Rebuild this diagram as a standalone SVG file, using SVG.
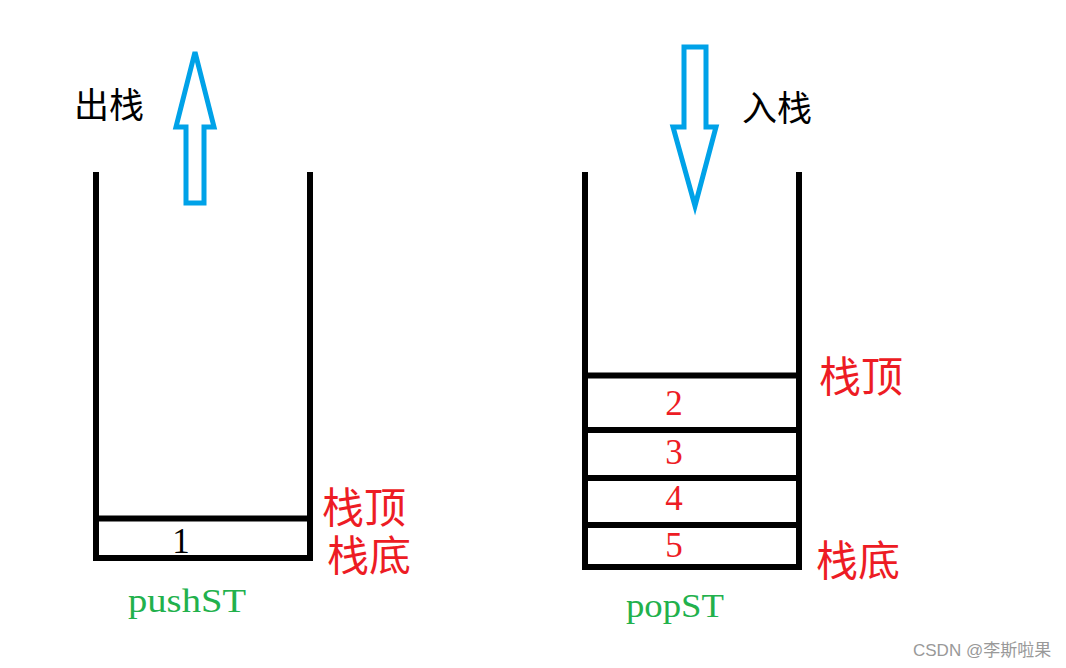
<svg xmlns="http://www.w3.org/2000/svg" width="1066" height="668" viewBox="0 0 1066 668">
<style>
.wall{fill:none;stroke:#000;stroke-width:6}
.arr{fill:none;stroke:#00a2e8;stroke-width:5;stroke-linejoin:miter}
.cjk{font-family:"Noto Sans CJK SC","Noto Sans",sans-serif}
.blk{fill:#000;font-size:35px}
.red{fill:#ed1c24;font-size:42px}
.num{font-family:"Liberation Serif",serif;font-size:35px;text-anchor:middle}
.grn{font-family:"Liberation Serif",serif;fill:#22b14c;font-size:34px}
</style>
<rect width="1066" height="668" fill="#fff"/>
<g id="pushST">
<polyline class="wall" points="96,172 96,558 310,558 310,172"/>
<line class="wall" x1="96" y1="518.5" x2="310" y2="518.5"/>
<text class="num" x="181" y="553" fill="#000">1</text>
<text class="grn" x="128" y="612" textLength="118" lengthAdjust="spacingAndGlyphs">pushST</text>
</g>
<g id="popST">
<polyline class="wall" points="585,172 585,567 799,567 799,172"/>
<line class="wall" x1="585" y1="375.5" x2="799" y2="375.5"/>
<line class="wall" x1="585" y1="430" x2="799" y2="430"/>
<line class="wall" x1="585" y1="478" x2="799" y2="478"/>
<line class="wall" x1="585" y1="525" x2="799" y2="525"/>
<text class="num" x="674" y="415" fill="#ed1c24">2</text>
<text class="num" x="674" y="464" fill="#ed1c24">3</text>
<text class="num" x="674" y="510" fill="#ed1c24">4</text>
<text class="num" x="674" y="557" fill="#ed1c24">5</text>
<text class="grn" x="626" y="617" textLength="98" lengthAdjust="spacingAndGlyphs">popST</text>
</g>
<g id="out-arrow">
<polygon class="arr" points="195,52 214,127 204,127 204,203 186,203 186,127 176,127"/>
<text class="cjk blk" x="74" y="118">出栈</text>
</g>
<g id="in-arrow">
<polygon class="arr" points="684,47 706,47 706,127 716,127 695,206 673,127 684,127"/>
<text class="cjk blk" x="742" y="121">入栈</text>
</g>
<g id="labels">
<text class="cjk red" x="322" y="523">栈顶</text>
<text class="cjk red" x="327" y="571">栈底</text>
<text class="cjk red" x="819" y="392">栈顶</text>
<text class="cjk red" x="816" y="576">栈底</text>
</g>
<g id="connectors"></g>
<text x="913" y="656" font-family="Liberation Sans,'Noto Sans CJK SC',sans-serif" font-size="17" fill="#999">CSDN @李斯啦果</text>
</svg>
